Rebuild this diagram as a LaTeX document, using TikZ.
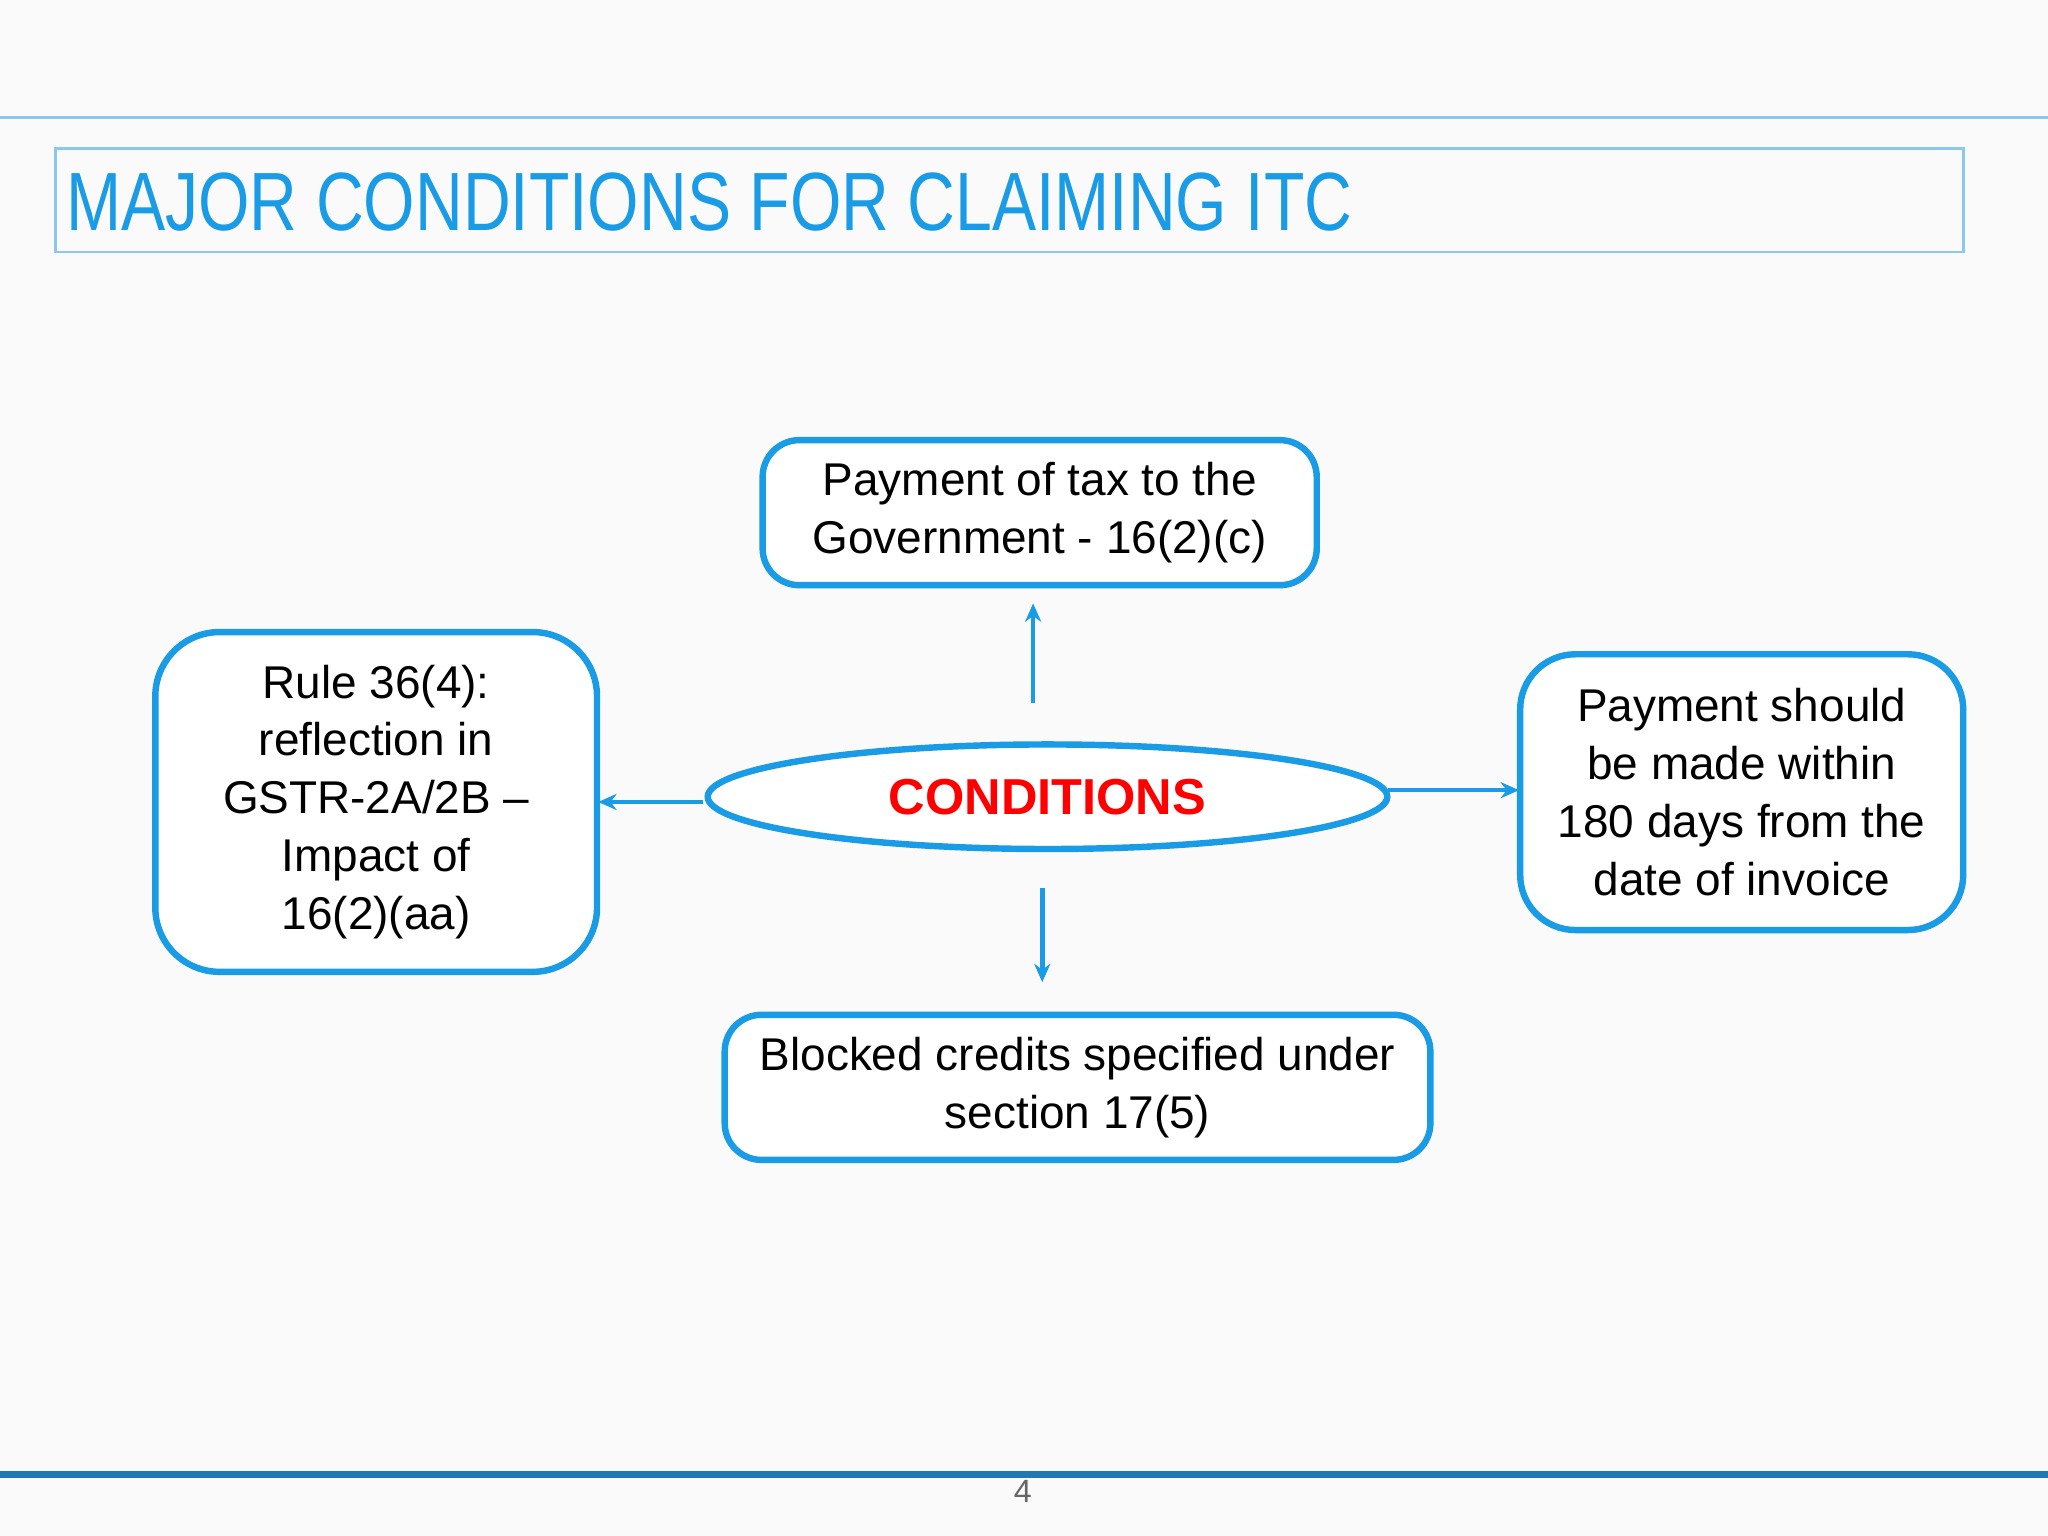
\documentclass[tikz,border=0pt]{standalone}
\usepackage{fontspec}
\setmainfont{Liberation Sans}
\usetikzlibrary{shapes.geometric,arrows.meta}
\definecolor{cb}{HTML}{1A9BE6}
\definecolor{lb}{HTML}{8CC8EE}
\definecolor{db}{HTML}{1F78B4}
\tikzset{
  box/.style={draw=cb,line width=1.4pt,rounded corners=8pt,fill=white,align=center,font=\fontsize{10}{12.6}\selectfont,inner sep=0pt},
  conn/.style={draw=cb,line width=1pt,-{Stealth[length=4pt,width=3.5pt]}}
}
\begin{document}
\begin{tikzpicture}[x=0.01cm,y=-0.01cm]
\useasboundingbox (0,0) rectangle (1568,1176);
\fill[black!2] (0,0) rectangle (1568,1176);
\draw[lb,line width=0.6pt] (0,90) -- (1568,90);
\node[draw=lb,line width=0.6pt,minimum width=14.6cm,minimum height=0.79cm,inner sep=0pt] (title) at (773,153.5) {};
\node[anchor=west,text=cb,font=\fontsize{18}{20}\selectfont,inner sep=0pt] (tt) at (50,155) {\scalebox{0.8}[1]{MAJOR CONDITIONS FOR CLAIMING ITC}};
\node[box,minimum width=4.24cm,minimum height=1.11cm] (top) at (796,392.5) {Payment of tax to the\\Government - 16(2)(c)};
\node[box,minimum width=3.38cm,minimum height=2.6cm,rounded corners=14pt] (left) at (288,614) {Rule 36(4):\\reflection in\\GSTR-2A/2B --\\Impact of\\16(2)(aa)};
\node[box,minimum width=3.39cm,minimum height=2.11cm,rounded corners=12pt] (right) at (1333.5,606.5) {Payment should\\be made within\\180 days from the\\date of invoice};
\node[box,minimum width=5.4cm,minimum height=1.11cm] (bot) at (825,832.5) {Blocked credits specified under\\section 17(5)};
\node[ellipse,draw=cb,line width=1.4pt,fill=white,minimum width=5.2cm,minimum height=0.8cm,inner sep=0pt,text=red,font=\fontsize{11}{13}\selectfont\bfseries] (c) at (802,610) {CONDITIONS};
\coordinate (u1) at (791,538); \coordinate (u2) at (791,462);
\coordinate (l1) at (538,614); \coordinate (l2) at (458,614);
\coordinate (r1) at (1063,605); \coordinate (r2) at (1163,605);
\coordinate (d1) at (798,680); \coordinate (d2) at (798,752);
\draw[conn] (u1) -- (u2);
\draw[conn] (l1) -- (l2);
\draw[conn] (r1) -- (r2);
\draw[conn] (d1) -- (d2);
\draw[db,line width=1.6pt] (0,1129) -- (1568,1129);
\node[text=black!60,font=\fontsize{7}{8}\selectfont] (pg) at (783,1142) {4};
\end{tikzpicture}
\end{document}
